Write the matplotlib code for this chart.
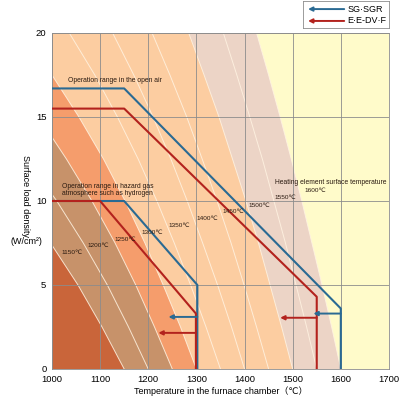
import numpy as np
import matplotlib.pyplot as plt
from matplotlib.patches import Rectangle

plt.rcParams['font.family'] = ['Liberation Sans', 'DejaVu Sans', 'Noto Sans CJK JP']

# heating element surface temperature isotherms
# furnace temperature (x) read at load density steps (y) until the curve leaves the plot
iso_temps = [1150, 1200, 1250, 1300, 1350, 1400, 1450, 1500, 1550, 1600]
load_full = [0, 2.5, 5, 7.5, 10, 12.5, 15, 17.5, 20]

iso_1150_y = [0, 2.5, 5, 7.37]
iso_1150_x = [1150, 1104, 1054, 1000]
iso_1200_y = [0, 2.5, 5, 7.5, 10, 10.4]
iso_1200_x = [1200, 1159, 1115, 1065, 1010, 1000]
iso_1250_y = [0, 2.5, 5, 7.5, 10, 12.5, 13.8]
iso_1250_x = [1250, 1213, 1174, 1131, 1083, 1030, 1000]
iso_1300_y = [0, 2.5, 5, 7.5, 10, 12.5, 15, 17.5]
iso_1300_x = [1300, 1267, 1231, 1193, 1152, 1107, 1056, 1000]
iso_1350_x = [1350, 1320, 1288, 1254, 1218, 1179, 1136, 1089, 1036]
iso_1400_x = [1400, 1373, 1344, 1313, 1281, 1247, 1210, 1170, 1126]
iso_1450_x = [1450, 1425, 1399, 1372, 1343, 1312, 1280, 1245, 1208]
iso_1500_x = [1500, 1477, 1453, 1429, 1403, 1375, 1347, 1316, 1284]
iso_1550_x = [1550, 1529, 1507, 1485, 1461, 1437, 1411, 1384, 1356]
iso_1600_x = [1600, 1581, 1561, 1540, 1519, 1497, 1474, 1450, 1425]

iso_curves = {
    1150: (iso_1150_x, iso_1150_y),
    1200: (iso_1200_x, iso_1200_y),
    1250: (iso_1250_x, iso_1250_y),
    1300: (iso_1300_x, iso_1300_y),
    1350: (iso_1350_x, load_full),
    1400: (iso_1400_x, load_full),
    1450: (iso_1450_x, load_full),
    1500: (iso_1500_x, load_full),
    1550: (iso_1550_x, load_full),
    1600: (iso_1600_x, load_full),
}

# isotherm label positions (furnace temp, load)
label_x = [1041, 1097, 1152, 1208, 1265, 1322, 1377, 1431, 1484, 1546]
label_y = [6.95, 7.35, 7.7, 8.15, 8.55, 8.95, 9.35, 9.75, 10.2, 10.6]

# operation range lines
sg_air_x = [1000, 1150, 1600, 1600]
sg_air_y = [16.7, 16.7, 3.6, 0]
e_air_x = [1000, 1150, 1550, 1550]
e_air_y = [15.5, 15.5, 4.3, 0]
sg_gas_x = [1000, 1150, 1302, 1302]
sg_gas_y = [10, 10, 5, 0]
e_gas_x = [1000, 1100, 1299, 1299]
e_gas_y = [10, 10, 3.3, 0]

# arrows: (start x, tip x, y)
sg_arrows = [(1600, 1543, 3.3), (1302, 1242, 3.1)]
e_arrows = [(1550, 1474, 3.05), (1299, 1221, 2.15)]

BLUE = '#2a6a93'
RED = '#b3221d'

# band colours: fill below each boundary isotherm
band_bounds = [1600, 1500, 1300, 1250, 1150]
band_colors = ['#ecd4c6', '#fccda1', '#f59d6c', '#c7926a', '#c9653a']
bg_yellow = '#fffbca'

fig = plt.figure(figsize=(4.06, 4.0), dpi=100)
ax = fig.add_axes([0.128, 0.0775, 0.830, 0.84])
ax.set_xlim(1000, 1700)
ax.set_ylim(0, 20)
ax.set_facecolor(bg_yellow)

for t, c in zip(band_bounds, band_colors):
    xs, ys = iso_curves[t]
    px = [1000] + list(xs)
    py = [0] + list(ys)
    if ys[-1] >= 20:
        px.append(1000)
        py.append(20)
    ax.fill(px, py, color=c, lw=0, zorder=1)

for t in iso_temps:
    xs, ys = iso_curves[t]
    ax.plot(xs, ys, color='#fff3e2', lw=0.7, alpha=0.85, zorder=1.2)

ax.grid(True, color='#8c8c8c', lw=0.6)
ax.set_xticks(range(1000, 1701, 100))
ax.set_yticks([0, 5, 10, 15, 20])
ax.tick_params(length=0, labelsize=6.8, pad=4)
for s in ax.spines.values():
    s.set_color('#8c8c8c')
    s.set_linewidth(0.6)

ax.plot(sg_air_x, sg_air_y, color=BLUE, lw=1.5, zorder=3)
ax.plot(e_air_x, e_air_y, color=RED, lw=1.5, zorder=3)
ax.plot(sg_gas_x, sg_gas_y, color=BLUE, lw=1.5, zorder=3)
ax.plot(e_gas_x, e_gas_y, color=RED, lw=1.5, zorder=3)

for x0, x1, y in sg_arrows:
    ax.annotate('', xy=(x1, y), xytext=(x0, y), zorder=3,
                arrowprops=dict(arrowstyle='-|>', color=BLUE, lw=1.4,
                                mutation_scale=6, shrinkA=0, shrinkB=0))
for x0, x1, y in e_arrows:
    ax.annotate('', xy=(x1, y), xytext=(x0, y), zorder=3,
                arrowprops=dict(arrowstyle='-|>', color=RED, lw=1.4,
                                mutation_scale=6, shrinkA=0, shrinkB=0))

for t, lx, ly in zip(iso_temps, label_x, label_y):
    ax.text(lx, ly, f'{t}\u2103', fontsize=4.6, ha='center', va='center',
            color='#2a1a10', zorder=4)

ax.text(1033, 17.2, 'Operation range in the open air', fontsize=4.9,
        color='#2a1a10', va='center', zorder=4)
ax.text(1021, 10.65, 'Operation range in hazard gas\natmosphere such as hydrogen',
        fontsize=4.9, color='#2a1a10', va='center', linespacing=0.95, zorder=4)
ax.text(1463, 11.1, 'Heating element surface temperature', fontsize=4.9,
        color='#2a1a10', va='center', zorder=4)

ax.set_xlabel('Temperature in the furnace chamber\uff08\u2103\uff09', fontsize=6.5,
              labelpad=2)
fig.text(0.062, 0.51, 'Surface load density', rotation=270, fontsize=6.5,
         ha='center', va='center')
fig.text(0.064, 0.395, '(W/cm\u00b2)', fontsize=6.5, ha='center', va='center')

# legend box
lg = fig.add_axes([0.746, 0.929, 0.212, 0.069])
lg.set_xlim(0, 1)
lg.set_ylim(0, 1)
lg.set_xticks([])
lg.set_yticks([])
for s in lg.spines.values():
    s.set_color('#8c8c8c')
    s.set_linewidth(0.6)
lg.annotate('', xy=(0.06, 0.70), xytext=(0.48, 0.70),
            arrowprops=dict(arrowstyle='-|>', color=BLUE, lw=1.4,
                            mutation_scale=6, shrinkA=0, shrinkB=0))
lg.annotate('', xy=(0.06, 0.27), xytext=(0.48, 0.27),
            arrowprops=dict(arrowstyle='-|>', color=RED, lw=1.4,
                            mutation_scale=6, shrinkA=0, shrinkB=0))
lg.text(0.52, 0.70, 'SG\u00b7SGR', fontsize=6.5, va='center')
lg.text(0.52, 0.27, 'E\u00b7E-DV\u00b7F', fontsize=6.5, va='center')

fig.savefig('out.png', dpi=100)
